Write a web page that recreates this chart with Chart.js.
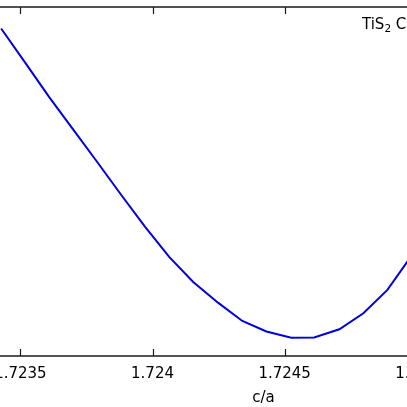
<!DOCTYPE html>
<html>
<head>
<meta charset="utf-8">
<script src="https://cdn.jsdelivr.net/npm/chart.js@4"></script>
<style>
  html, body { margin: 0; padding: 0; background: #fff; }
  #frame { position: relative; width: 407px; height: 407px; overflow: hidden; }
  #chartBox { position: absolute; left: -6px; top: 0; }
</style>
</head>
<body>
<div id="frame">
  <div id="chartBox"><canvas id="lineChart" width="539" height="407"></canvas></div>
</div>
<script>
// c/a ratio and relative energy
const caValues = [
  1.723427, 1.723518, 1.723609, 1.7237, 1.72379, 1.723881,
  1.723972, 1.724063, 1.724154, 1.724249, 1.72434, 1.724431,
  1.724525, 1.724612, 1.724707, 1.724798, 1.724889, 1.72498
];
const energyValues = [
  3.27, 2.93, 2.585, 2.26, 1.94, 1.61,
  1.29, 0.99, 0.74, 0.53, 0.35, 0.245,
  0.183, 0.185, 0.267, 0.427, 0.66, 1.0
];
const tickValues = [1.7235, 1.724, 1.7245, 1.725];
const tickLabels = ["1.7235", "1.724", "1.7245", "1.725"];

const FONT = '"DejaVu Sans", sans-serif';

// matplotlib-like box with inward ticks and the text label
const framePlugin = {
  id: "frame",
  afterDraw(chart) {
    const { ctx, chartArea: a, scales } = chart;
    ctx.save();
    ctx.strokeStyle = "#1a1a1a";
    ctx.lineWidth = 1.5;
    ctx.strokeRect(a.left, a.top, a.right - a.left, a.bottom - a.top);
    ctx.beginPath();
    tickValues.forEach((v) => {
      const px = Math.round(scales.x.getPixelForValue(v)) + 0.5;
      ctx.moveTo(px, a.bottom);
      ctx.lineTo(px, a.bottom - 7);
      ctx.moveTo(px, a.top);
      ctx.lineTo(px, a.top + 7);
    });
    ctx.lineWidth = 1.2;
    ctx.stroke();

    // "TiS2 CdI2" annotation, subscripts drawn smaller
    ctx.fillStyle = "#000";
    ctx.textBaseline = "alphabetic";
    let x = a.right - 171;
    const y = 28.5;
    const parts = [["TiS", 0], ["2", 1], [" CdI", 0], ["2", 1]];
    parts.forEach(([t, sub]) => {
      ctx.font = (sub ? "10.5px " : "15px ") + FONT;
      ctx.fillText(t, x, sub ? y + 3 : y);
      x += ctx.measureText(t).width;
    });
    ctx.restore();
  },
};

const ctxLine = document.getElementById("lineChart").getContext("2d");
new Chart(ctxLine, {
  type: "line",
  data: {
    datasets: [
      {
        data: caValues.map((c, i) => ({ x: c, y: energyValues[i] })),
        borderColor: "#0000dd",
        borderWidth: 2,
        pointRadius: 0,
        fill: false,
        tension: 0,
      },
    ],
  },
  options: {
    responsive: false,
    animation: false,
    layout: { padding: { top: 7, left: 0, right: 0, bottom: 0 } },
    plugins: { legend: { display: false }, tooltip: { enabled: false } },
    scales: {
      x: {
        type: "linear",
        min: 1.7234,
        max: 1.72544,
        afterBuildTicks: (scale) => {
          scale.ticks = tickValues.map((v) => ({ value: v }));
        },
        afterFit: (scale) => {
          scale.height = 51;
          scale.paddingLeft = 0;
          scale.paddingRight = 0;
        },
        grid: { display: false, drawTicks: false },
        border: { display: false },
        ticks: {
          autoSkip: false,
          maxRotation: 0,
          padding: 9,
          color: "#000",
          font: { family: FONT, size: 15 },
          callback: (value, index) => tickLabels[index],
        },
        title: {
          display: true,
          text: "c/a",
          color: "#000",
          font: { family: FONT, size: 15 },
          padding: { top: 4, bottom: 0 },
        },
      },
      y: {
        display: false,
        min: 0,
        max: 3.485,
      },
    },
  },
  plugins: [framePlugin],
});
</script>
</body>
</html>
